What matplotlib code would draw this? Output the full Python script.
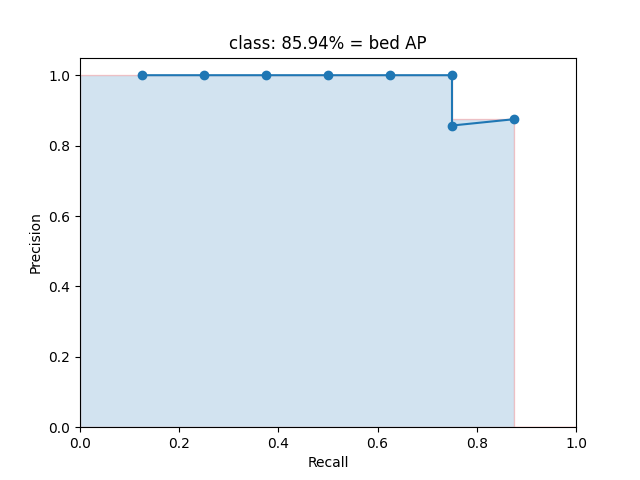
import matplotlib
matplotlib.use("Agg")
from matplotlib import pyplot as plt

# precision / recall points for class "bed"
rec = [0.125, 0.25, 0.375, 0.5, 0.625, 0.75, 0.75, 0.875]
prec = [1.0, 1.0, 1.0, 1.0, 1.0, 1.0, 0.857, 0.875]

# interpolated envelope (monotone precision)
mrec = [0.0] + rec + [1.0]
mpre = [0.0] + prec + [0.0]
for i in range(len(mpre) - 2, -1, -1):
    mpre[i] = max(mpre[i], mpre[i + 1])

ap = 0.0
for i in range(1, len(mrec)):
    if mrec[i] != mrec[i - 1]:
        ap += (mrec[i] - mrec[i - 1]) * mpre[i]

fig, ax = plt.subplots(figsize=(6.4, 4.8), dpi=100)

ax.plot(rec, prec, "-o")

area_x = mrec[:-1] + [mrec[-2]] + [mrec[-1]]
area_y = mpre[:-1] + [0.0] + [mpre[-1]]
ax.fill_between(area_x, 0, area_y, alpha=0.2, edgecolor="r")

ax.set_title("class: " + "{0:.2f}%".format(ap * 100) + " = bed AP")
ax.set_xlabel("Recall")
ax.set_ylabel("Precision")
ax.set_xlim([0.0, 1.0])
ax.set_ylim([0.0, 1.05])

fig.savefig("out.png")
